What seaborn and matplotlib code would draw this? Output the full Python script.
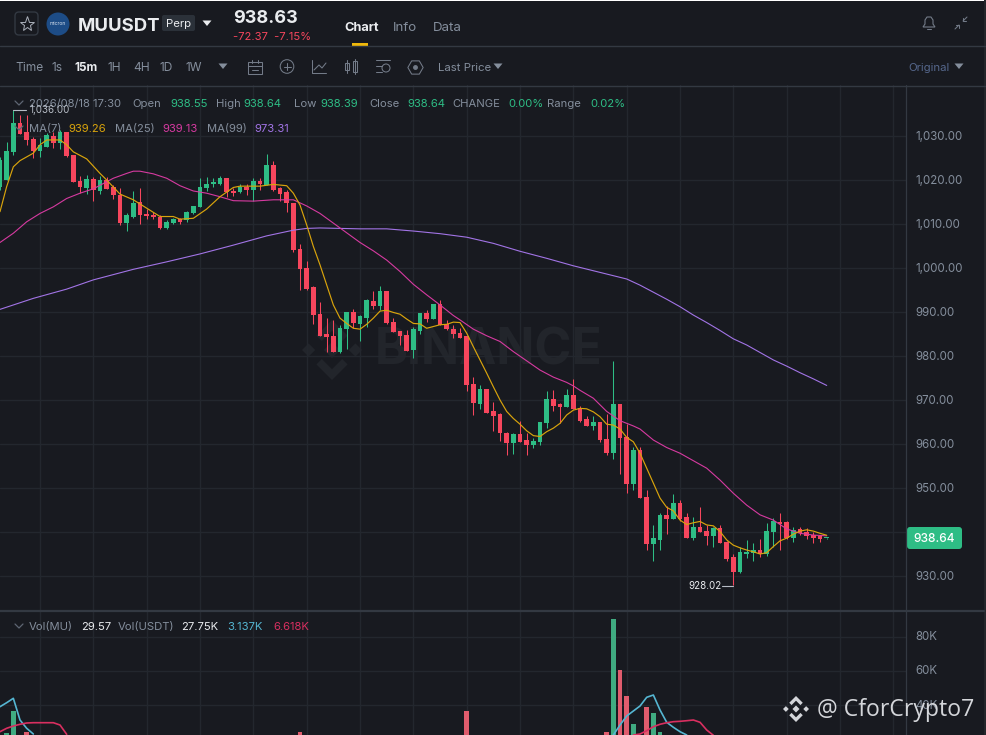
#!/usr/bin/env python3
# grafico de velas MUUSDT 15m con medias moviles y volumen

import pandas as pd
import seaborn as sns
import matplotlib.pyplot as plt
from matplotlib.patches import Circle, FancyBboxPatch, Polygon, Rectangle

# %% datos

opens = [1018.5, 1020.1, 1026.3, 1032.9, 1030.8, 1029.3, 1026.6, 1027.4, 1030.1, 1028.5,
         1031.0, 1025.7, 1019.8, 1018.1, 1020.2, 1017.6, 1020.1, 1018.4, 1016.7, 1010.2,
         1011.7, 1014.9, 1012.3, 1012.0, 1011.7, 1009.0, 1010.2, 1011.1, 1010.8, 1012.4,
         1013.8, 1018.1, 1019.1, 1019.2, 1020.4, 1017.5, 1017.2, 1018.5, 1017.7, 1019.8,
         1018.9, 1023.3, 1018.1, 1017.3, 1014.8, 1004.3, 1000.1, 995.6, 989.6, 985.0,
         984.6, 981.0, 986.1, 989.9, 987.3, 988.6, 992.6, 991.4, 994.7, 987.8,
         985.7, 984.8, 981.4, 985.7, 989.7, 988.4, 991.8, 987.2, 986.1, 985.2,
         984.6, 973.6, 969.1, 972.5, 967.5, 966.8, 962.6, 960.3, 962.3, 960.8,
         959.8, 960.5, 964.7, 970.2, 969.0, 968.3, 971.1, 968.1, 965.6, 964.2,
         965.1, 961.1, 958.0, 969.2, 961.5, 950.8, 958.6, 947.9, 937.2, 938.2,
         943.9, 943.0, 946.7, 943.3, 938.6, 941.2, 940.2, 939.2, 941.0, 937.8,
         934.3, 930.8, 935.0, 935.2, 935.9, 935.0, 940.1, 942.3, 942.2, 938.6,
         940.6, 940.1, 939.3, 939.0, 938.55]
highs = [1025.3, 1028.7, 1036.0, 1034.8, 1034.8, 1029.8, 1029.5, 1030.6, 1031.0, 1031.4,
         1031.0, 1025.7, 1020.9, 1021.1, 1020.6, 1020.9, 1020.6, 1018.9, 1018.1, 1012.6,
         1017.4, 1018.1, 1013.3, 1012.8, 1012.0, 1010.8, 1011.3, 1011.3, 1013.0, 1014.2,
         1020.4, 1020.6, 1020.4, 1020.9, 1020.4, 1018.1, 1019.2, 1019.2, 1020.4, 1020.5,
         1025.9, 1024.4, 1018.5, 1017.7, 1014.8, 1005.4, 1001.6, 995.9, 992.2, 988.6,
         988.2, 987.1, 989.9, 990.7, 989.3, 992.9, 994.8, 995.9, 994.7, 988.6,
         985.7, 985.9, 986.7, 989.7, 990.5, 991.8, 992.7, 988.2, 987.1, 986.3,
         984.6, 975.2, 973.3, 972.5, 969.5, 967.0, 962.8, 962.4, 965.2, 962.4,
         961.3, 965.1, 972.1, 972.3, 969.4, 972.5, 974.8, 968.6, 966.4, 966.4,
         965.1, 966.8, 978.9, 969.2, 964.5, 959.4, 959.4, 949.5, 941.6, 944.4,
         945.8, 948.6, 947.3, 944.4, 943.3, 945.6, 941.6, 941.2, 941.6, 938.0,
         935.0, 936.7, 938.2, 937.6, 938.3, 942.1, 943.1, 944.3, 942.4, 941.1,
         941.1, 940.8, 939.9, 939.2, 938.64]
lows = [1017.7, 1020.0, 1025.7, 1030.4, 1028.0, 1025.1, 1025.3, 1027.4, 1027.2, 1027.0,
        1025.3, 1019.5, 1017.0, 1016.8, 1015.3, 1016.8, 1018.0, 1015.6, 1009.8, 1008.3,
        1011.3, 1009.9, 1011.1, 1011.1, 1008.8, 1008.8, 1009.9, 1010.0, 1010.5, 1012.3,
        1013.8, 1017.5, 1018.5, 1018.9, 1016.2, 1016.4, 1017.1, 1016.5, 1015.3, 1017.7,
        1018.9, 1017.6, 1015.2, 1012.8, 1003.6, 994.9, 995.0, 987.3, 984.5, 981.0,
        980.8, 980.6, 981.6, 986.3, 983.4, 986.7, 990.6, 990.5, 987.3, 985.5,
        982.5, 981.2, 979.6, 985.0, 987.8, 988.4, 987.1, 985.9, 984.2, 984.2,
        972.1, 966.6, 968.0, 967.0, 963.0, 960.7, 957.4, 957.7, 960.4, 957.4,
        959.0, 959.8, 963.7, 967.4, 964.7, 968.3, 968.0, 964.9, 964.0, 963.2,
        960.5, 957.5, 956.7, 953.1, 948.9, 949.5, 947.7, 935.9, 933.5, 935.9,
        939.5, 943.0, 942.6, 938.6, 938.2, 939.9, 937.1, 936.5, 937.4, 933.3,
        928.02, 930.6, 934.0, 933.5, 934.3, 934.5, 936.7, 935.9, 938.3, 937.8,
        939.3, 938.3, 937.4, 937.8, 938.39]
closes = [1024.5, 1026.6, 1032.9, 1030.5, 1029.1, 1026.6, 1028.0, 1030.2, 1028.3, 1031.0,
          1025.5, 1019.5, 1018.3, 1020.2, 1017.7, 1019.9, 1018.0, 1016.5, 1010.2, 1012.0,
          1014.8, 1012.0, 1011.8, 1011.5, 1009.0, 1010.5, 1011.1, 1010.5, 1012.8, 1014.1,
          1018.5, 1019.2, 1019.5, 1020.4, 1017.2, 1017.0, 1018.5, 1017.7, 1019.8, 1019.0,
          1023.3, 1017.7, 1016.8, 1014.7, 1004.1, 999.8, 995.2, 989.3, 984.6, 984.4,
          981.0, 986.3, 989.9, 987.4, 989.1, 992.7, 991.4, 994.8, 987.6, 985.5,
          984.6, 981.2, 986.1, 989.7, 988.3, 991.8, 987.1, 986.1, 985.0, 984.2,
          973.3, 969.3, 972.5, 967.1, 966.4, 962.4, 960.2, 962.3, 960.5, 959.8,
          960.7, 964.9, 970.2, 968.6, 968.3, 971.1, 968.0, 965.3, 964.1, 965.1,
          960.8, 957.9, 969.2, 961.4, 950.8, 958.6, 947.7, 937.2, 938.6, 943.9,
          943.0, 946.7, 943.0, 938.7, 941.2, 939.9, 939.2, 941.0, 937.4, 933.8,
          930.8, 935.5, 935.5, 935.9, 935.0, 940.2, 942.4, 941.8, 938.6, 940.5,
          939.7, 939.2, 938.7, 938.3, 938.64]

ma7_idx = [0, 1, 2, 3, 5, 6, 7, 9, 10, 11, 13, 15, 16, 18, 20, 22, 24, 26, 27, 29, 31, 33, 35, 36, 39,
           41, 43, 44, 45, 46, 47, 48, 50, 51, 52, 53, 54, 55, 56, 57, 58, 59, 60, 61, 62, 63, 64, 65,
           66, 67, 68, 69, 70, 71, 72, 73, 74, 75, 76, 77, 78, 79, 80, 81, 82, 83, 84, 85, 86, 87, 88,
           89, 90, 91, 92, 93, 94, 95, 96, 97, 98, 99, 100, 101, 102, 103, 104, 105, 106, 107, 108,
           109, 110, 111, 112, 113, 114, 115, 116, 117, 118, 119, 120, 121, 122, 123, 124]
ma7 = [1012.8, 1018.5, 1023.0, 1024.4, 1026.1, 1028.0, 1029.1, 1029.1, 1028.0, 1026.4, 1024.8, 1021.5, 1020.0,
       1016.8, 1015.5, 1013.6, 1011.7, 1011.7, 1011.1, 1011.3, 1013.4, 1016.2, 1018.3, 1018.6, 1018.6,
       1019.0, 1018.7, 1017.0, 1014.3, 1009.8, 1004.9, 1000.7, 991.6, 988.6, 987.4, 986.3, 986.1, 987.2,
       988.6, 990.2, 990.4, 989.9, 989.5, 988.4, 987.4, 987.3, 986.3, 986.7, 987.1, 987.2, 987.7, 987.6,
       985.2, 982.1, 979.1, 976.1, 973.0, 970.0, 967.4, 965.8, 964.5, 963.0, 961.9, 961.7, 962.8, 963.6,
       964.7, 966.6, 967.7, 968.1, 968.0, 967.3, 966.2, 964.5, 964.3, 963.4, 961.5, 960.5, 957.9, 954.5,
       951.1, 947.7, 945.6, 944.8, 942.7, 941.7, 942.1, 942.4, 941.6, 941.4, 940.1, 938.2, 937.0, 936.4,
       935.9, 935.5, 935.0, 935.3, 936.7, 938.0, 938.6, 939.5, 940.2, 940.5, 940.2, 939.7, 939.26]

ma25_idx = [0, 2, 4, 6, 8, 10, 12, 14, 16, 17, 19, 20, 21, 23, 25, 27, 29, 31, 33, 35, 38, 41, 44,
            46, 48, 50, 52, 54, 56, 58, 60, 62, 64, 66, 68, 69, 71, 73, 75, 77, 79, 81, 83, 85, 86,
            87, 89, 91, 93, 95, 96, 98, 100, 102, 104, 106, 108, 110, 112, 114, 116, 118, 120, 122, 124]
ma25 = [1005.8, 1007.9, 1010.5, 1012.4, 1013.9, 1015.8, 1017.0, 1018.0, 1019.6, 1020.4, 1021.5, 1022.0, 1022.0,
        1021.4, 1020.4, 1018.7, 1017.5, 1017.0, 1016.2, 1015.3, 1015.2, 1015.5, 1015.5,
        1014.1, 1012.4, 1010.2, 1008.0, 1005.8, 1003.9, 1001.8, 999.2, 996.3, 993.9, 991.6, 989.2, 988.2,
        986.1, 984.6, 983.3, 981.0, 978.9, 976.8, 975.2, 974.0, 973.2, 972.2, 970.4, 967.4, 965.3, 964.1,
        963.4, 960.9, 959.2, 957.9, 956.2, 954.5, 951.8, 948.8, 946.1, 943.9, 942.7, 940.7, 939.7, 939.3, 939.13]

ma99_idx = [0, 5, 10, 14, 20, 25, 30, 35, 40, 44, 46, 48, 54, 58, 62, 66, 70, 74, 78, 82, 86, 90,
            94, 96, 98, 100, 102, 104, 106, 108, 110, 112, 114, 116, 118, 120, 122, 124]
ma99 = [990.6, 993.1, 995.2, 997.3, 999.7, 1001.4, 1003.2, 1005.2, 1007.3, 1008.6, 1009.0, 1009.1, 1008.9,
        1008.9, 1008.4, 1007.8, 1007.0, 1005.6, 1003.8, 1002.2, 1000.5, 999.0, 997.5, 996.1, 994.5, 992.9,
        991.2, 989.3, 987.6, 985.8, 983.9, 982.5, 980.8, 979.1, 977.7, 976.2, 974.8, 973.31]

# solo las barras de volumen que asoman en el panel
vol_idx = [1, 2, 4, 45, 70, 91, 92, 93, 94, 95, 97, 98, 99]
vol_vals = [23900, 36700, 24600, 24600, 36900, 24400, 90350, 60700, 45500, 29100, 39250, 35400, 24600]
vol_up = ['up', 'up', 'down', 'down', 'down', 'down', 'up', 'down', 'down', 'up', 'down', 'up', 'up']

vol_ma_a_idx = [0, 1, 2, 3, 4, 5, 92, 93, 94, 95, 96, 97, 98, 99, 100, 101, 102, 103]
vol_ma_a = [39240, 41580, 44150, 31460, 26610, 23275, 22690, 28540, 33800, 36730, 39650, 44740, 46080,
            37310, 30120, 27200, 24620, 22690]
vol_ma_b_idx = [0, 1, 2, 3, 4, 5, 6, 7, 8, 9, 10, 95, 96, 97, 98, 99, 100, 101, 102, 103, 104, 105, 106, 107]
vol_ma_b = [24620, 26610, 27950, 28950, 29710, 29880, 29880, 29880, 29880, 28540, 23100, 22690, 23275, 25200,
            27540, 28950, 29880, 30470, 30700, 31050, 31460, 30120, 25610, 22500]

price_ticks = [930, 940, 950, 960, 970, 980, 990, 1000, 1010, 1020, 1030]
axis_price_labels = ['930.00', '', '950.00', '960.00', '970.00', '980.00', '990.00',
                     '1,000.00', '1,010.00', '1,020.00', '1,030.00']
vol_ticks = [40000, 60000, 80000]
vol_labels = ['40K', '60K', '80K']
grid_idx = [6, 14, 22, 30, 38, 46, 54, 62, 70, 78, 86, 94, 102, 110, 118, 126, 134]

# %% colores

BG = '#181a20'
GRID = '#23272e'
SEP = '#333942'
GRAY = '#848e9c'
ICON = '#737b88'
UP = '#2ebd85'
DOWN = '#f6465d'
YEL = '#d9a40c'
PINK = '#d63aa0'
PURP = '#a274e6'

W, H = 987, 735
BAR_PX = 6.667

sns.set_theme(style='dark')
plt.rcParams['font.family'] = ['Inter', 'DejaVu Sans']

fig = plt.figure(figsize=(W / 100, H / 100), dpi=100, facecolor=BG)


def pixel_axes(z):
    a = fig.add_axes([0, 0, 1, 1], zorder=z)
    a.set_xlim(0, W)
    a.set_ylim(H, 0)
    a.axis('off')
    a.patch.set_alpha(0)
    return a


def panel_axes(y_top, y_bot, z):
    a = fig.add_axes([0, 1 - y_bot / H, 906 / W, (y_bot - y_top) / H], zorder=z)
    a.patch.set_alpha(0)
    for s in a.spines.values():
        s.set_visible(False)
    a.set_xlim(0, 906 / BAR_PX)
    a.set_xticks([])
    a.yaxis.tick_right()
    a.tick_params(length=0, labelright=False, labelleft=False)
    a.set_xlabel('')
    a.set_ylabel('')
    return a


def binance_logo(a, cx, cy, r, color):
    # logo de rombos: centro, laterales y dos chevrones
    def dia(x, y, s):
        a.add_patch(Polygon([(x, y - s), (x + s, y), (x, y + s), (x - s, y)], color=color, lw=0))
    dia(cx, cy, r * 0.27)
    dia(cx - r * 0.78, cy, r * 0.22)
    dia(cx + r * 0.78, cy, r * 0.22)
    for sg in (-1, 1):
        pts = [(0, 1), (0.52, 0.48), (0.34, 0.3), (0, 0.64), (-0.34, 0.3), (-0.52, 0.48)]
        a.add_patch(Polygon([(cx + px * r, cy + sg * py * r) for px, py in pts], color=color, lw=0))


back = pixel_axes(0)
back.add_patch(Rectangle((0, 0), W, H, color=BG, lw=0))
binance_logo(back, 332, 350, 30, '#22252b')
back.text(375, 351, 'BINANCE', color='#22252b', fontsize=36, fontweight='bold', va='center',
          family=['Inter'])

# %% velas

df = pd.DataFrame({'idx': range(len(opens)), 'open': opens, 'high': highs, 'low': lows, 'close': closes})
df['color'] = [UP if c >= o else DOWN for o, c in zip(df['open'], df['close'])]
df['body'] = (df['close'] - df['open']).abs().clip(lower=0.3)
df['base'] = df[['open', 'close']].min(axis=1)

ax = panel_axes(85, 610, 1)
ax.set_ylim(930 + (576 - 610) / 4.4, 930 + (576 - 85) / 4.4)
ax.set_yticks(price_ticks)
ax.set_xticks(grid_idx)
ax.tick_params(labelbottom=False, length=0)
ax.grid(True, color=GRID, lw=1.0)
ax.set_axisbelow(True)

ax.vlines(df['idx'], df['low'], df['high'], colors=df['color'], lw=0.75, zorder=2)
ax.bar(df['idx'], df['body'], bottom=df['base'], width=0.68, color=df['color'], lw=0, zorder=3)

sns.lineplot(x=ma99_idx, y=ma99, color=PURP, lw=0.8, ax=ax, zorder=4, estimator=None)
sns.lineplot(x=ma25_idx, y=ma25, color=PINK, lw=0.8, ax=ax, zorder=4, estimator=None)
sns.lineplot(x=ma7_idx, y=ma7, color=YEL, lw=0.85, ax=ax, zorder=5, estimator=None)
ax.set_xlim(0, 906 / BAR_PX)

# %% volumen

vol_df = pd.DataFrame({'idx': vol_idx, 'vol': vol_vals, 'side': vol_up})
axv = panel_axes(611, 735, 1)
sns.barplot(data=vol_df, x='idx', y='vol', hue='side', palette={'up': UP, 'down': DOWN},
            native_scale=True, dodge=False, width=0.68, legend=False, lw=0, ax=axv, zorder=3)
sns.lineplot(x=vol_ma_a_idx[:6], y=vol_ma_a[:6], color='#55b6d2', lw=1.2, ax=axv, zorder=4, estimator=None)
sns.lineplot(x=vol_ma_a_idx[6:], y=vol_ma_a[6:], color='#55b6d2', lw=1.2, ax=axv, zorder=4, estimator=None)
sns.lineplot(x=vol_ma_b_idx[:11], y=vol_ma_b[:11], color='#d92f60', lw=1.2, ax=axv, zorder=4, estimator=None)
sns.lineplot(x=vol_ma_b_idx[11:], y=vol_ma_b[11:], color='#d92f60', lw=1.2, ax=axv, zorder=4, estimator=None)
axv.set_xlim(0, 906 / BAR_PX)
axv.set_ylim(80000 - (735 - 637) / 34.2 * 20000, 80000 + (637 - 611) / 34.2 * 20000)
axv.set_yticks(vol_ticks)
axv.set_xticks(grid_idx)
axv.tick_params(labelbottom=False, labelright=False, labelleft=False, length=0)
axv.set_xlabel('')
axv.set_ylabel('')
axv.grid(True, color=GRID, lw=1.0)
axv.set_axisbelow(True)

# %% textos e iconos de la interfaz

ui = pixel_axes(3)


def txt(x, y, s, color=GRAY, size=8.3, weight='normal', ha='left'):
    ui.text(x, y + 1.2, s, color=color, fontsize=size, fontweight=weight, ha=ha, va='center')


def tri(x, y, color=GRAY, s=4.5):
    ui.add_patch(Polygon([(x - s, y - 2.5), (x + s, y - 2.5), (x, y + 3)], color=color, lw=0))


def chevron(x, y):
    ui.plot([x - 4, x, x + 4], [y - 2, y + 2, y - 2], color='#5e6673', lw=0.9)


def seg(xs, ys, color=ICON, lw=0.75):
    ui.plot(xs, ys, color=color, lw=lw, solid_capstyle='round')


# franjas y separadores
ui.plot([0, W], [45.5, 45.5], color=SEP, lw=1)
ui.plot([0, W], [85.5, 85.5], color=SEP, lw=1)
ui.plot([0, 984], [610.5, 610.5], color=SEP, lw=1.6)
ui.plot([906, 906], [85, H], color=SEP, lw=0.9)
ui.add_patch(Rectangle((0, 0), 984, 1, color='#ffffff', lw=0))
ui.add_patch(Rectangle((984, 0), 3, H, color='#24262b', lw=0))

# cabecera
ui.add_patch(FancyBboxPatch((15, 12), 23, 23, boxstyle='round,pad=0,rounding_size=4', fc='none', ec=SEP, lw=1))
ui.plot([26.5], [24], marker='*', ms=11, mfc='none', mec='#aab0ba', mew=0.7)
ui.add_patch(Circle((58, 24), 11.5, color='#1d4c86', lw=0))
txt(58, 22.5, 'micron', color='#d8e2ee', size=3.6, ha='center')
txt(78, 25, 'MUUSDT', color='#eaecef', size=13.4, weight='bold')
ui.add_patch(FancyBboxPatch((162, 15), 33, 16, boxstyle='round,pad=0,rounding_size=2', fc='#2b3139', ec='none'))
txt(178.5, 23, 'Perp', color='#eaecef', size=8.2, ha='center')
tri(207, 23, color='#eaecef')
txt(233, 17, '938.63', color='#eaecef', size=13, weight='bold')
txt(233, 35.5, '-72.37  -7.15%', color=DOWN, size=8.1)
txt(344, 26.5, 'Chart', color='#eaecef', size=9.2, weight='bold')
txt(393, 26.5, 'Info', color=GRAY, size=9.6)
txt(433, 26.5, 'Data', color=GRAY, size=9.6)
ui.add_patch(Rectangle((352, 42.5), 16, 3, color='#f0b90b', lw=0))

# campana y flechas
ui.add_patch(Polygon([(923, 27), (925, 24), (925, 20), (927, 17), (931, 17), (933, 20), (933, 24), (935, 27)],
                     fc='none', ec=ICON, lw=0.8, closed=True))
seg([927, 931], [29, 29])
seg([955, 959], [29, 25])
seg([963, 967], [21, 17])
seg([959, 959, 956], [28, 25, 25])
seg([963, 963, 966], [18, 21, 21])

# barra de herramientas
for x, s in [(15, 'Time'), (52, '1s'), (108, '1H'), (133, '4H'), (159, '1D'), (185, '1W')]:
    txt(x, 67, s, size=8.6)
txt(74, 67, '15m', color='#eaecef', size=8.4, weight='bold')
tri(223, 66)
ui.add_patch(Rectangle((248, 62), 14, 12, fc='none', ec=ICON, lw=0.75))
seg([248, 262], [66, 66])
seg([252, 252], [60, 63])
seg([258, 258], [60, 63])
seg([252, 258], [70, 70])
ui.add_patch(Circle((287, 66.5), 6.8, fc='none', ec=ICON, lw=0.75))
seg([283.5, 290.5], [66.5, 66.5])
seg([287, 287], [63, 70])
seg([312, 312, 326], [60, 73, 73])
seg([314, 319, 322, 326], [70, 65, 68, 63])
ui.add_patch(Rectangle((345, 63), 4, 7, fc='none', ec=ICON, lw=0.75))
ui.add_patch(Rectangle((353, 61), 4, 11, fc='none', ec=ICON, lw=0.75))
seg([347, 347], [60, 73])
seg([355, 355], [59, 74])
seg([376, 390], [60, 60])
seg([376, 382], [66, 66])
seg([376, 382], [72, 72])
ui.add_patch(Circle((386, 68), 4, fc='none', ec=ICON, lw=0.75))
ui.plot([415], [66.5], marker='H', ms=11, mfc='none', mec=ICON, mew=0.75)
ui.plot([415], [66.5], marker='o', ms=2.5, color=ICON)
txt(438, 67, 'Last Price', size=8.2)
tri(498, 66)
txt(908, 67, 'Original', color='#55678c', size=8.2)
tri(959, 66, color=GRAY)

# leyendas de velas
chevron(19, 103)
for x, s, c in [(29, '2026/08/18 17:30', GRAY), (132, 'Open', GRAY), (170, '938.55', UP), (216, 'High', GRAY),
                (243, '938.64', UP), (294, 'Low', GRAY), (320, '938.39', UP), (369, 'Close', GRAY),
                (407, '938.64', UP), (452, 'CHANGE', GRAY), (508, '0.00%', UP), (547, 'Range', GRAY),
                (590, '0.02%', UP)]:
    txt(x, 103, s, color=c, size=8.1)
chevron(19, 128)
for x, s, c in [(29, 'MA(7)', GRAY), (68, '939.26', YEL), (115, 'MA(25)', GRAY), (162, '939.13', PINK),
                (207, 'MA(99)', GRAY), (254, '973.31', PURP)]:
    txt(x, 128, s, color=c, size=8.1)

# maximo y minimo
txt(30, 109, '1,036.00', color='#b7bdc6', size=7)
seg([13, 26], [110, 110], color='#b7bdc6', lw=0.8)
txt(688, 585, '928.02', color='#eaecef', size=7)
seg([722, 733], [586, 586], color='#b7bdc6', lw=0.8)

# eje de precios
for p, s in zip(price_ticks, axis_price_labels):
    txt(915, 576 - (p - 930) * 4.4 - 0.5, s)
ui.add_patch(FancyBboxPatch((907, 527), 55, 22, boxstyle='round,pad=0,rounding_size=3', fc=UP, ec='none'))
txt(934.5, 537.5, '938.64', color='#ffffff', size=8.6, ha='center', weight='medium')

# leyenda de volumen
chevron(19, 626)
for x, s, c in [(29, 'Vol(MU)', GRAY), (81, '29.57', '#eaecef'), (118, 'Vol(USDT)', GRAY), (181, '27.75K', '#eaecef'),
                (227, '3.137K', '#55b6d2'), (273, '6.618K', '#d92f60')]:
    txt(x, 626, s, color=c, size=8.1)
for v, s in zip(vol_ticks, vol_labels):
    txt(915, 636 + (80000 - v) / 20000 * 34.2, s)

# marca de agua inferior
binance_logo(ui, 796, 709, 13, '#d4d6da')
ui.text(817, 709.5, '@ CforCrypto7', color='#d4d6da', fontsize=16.6, va='center', ha='left',
        family=['Open Sans', 'DejaVu Sans'])

fig.savefig('out.png', dpi=100, facecolor=BG)
